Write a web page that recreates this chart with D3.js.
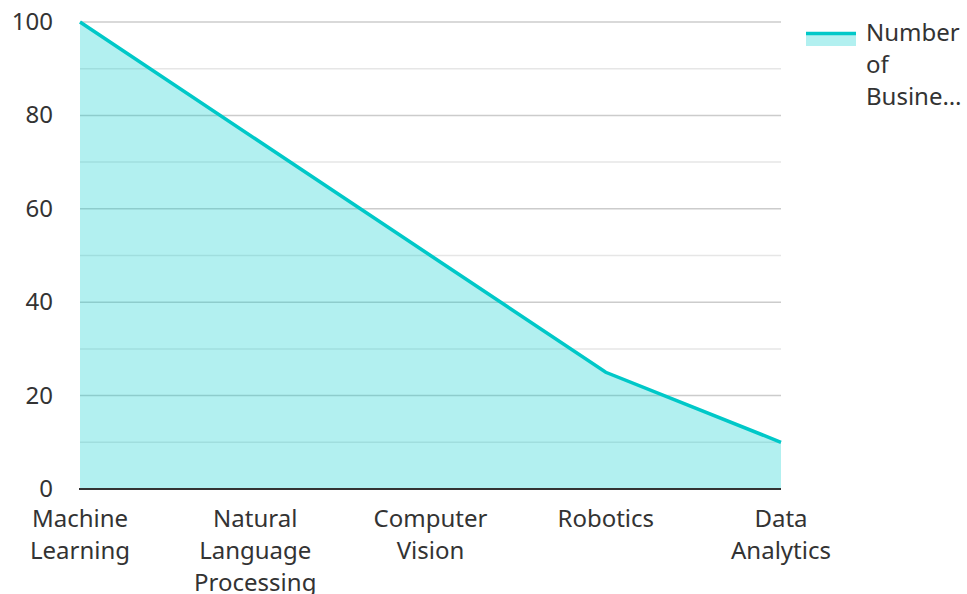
<!DOCTYPE html>
<html><head><meta charset="utf-8">
<script src="https://cdn.jsdelivr.net/npm/d3@7"></script>
<style>body{margin:0;background:#fff}svg{display:block}text{font-family:"Noto Sans","Open Sans",sans-serif;fill:#333}</style>
</head><body><svg id="c" width="967" height="594"></svg>
<script>
const categories=[["Machine","Learning"],["Natural","Language","Processing"],["Computer","Vision"],["Robotics"],["Data","Analytics"]];
const values=[100,75,50,25,10];
const yTicks=[0,20,40,60,80,100];
const minorTicks=[10,30,50,70,90];
const seriesName=["Number","of","Busine…"];

const svg=d3.select("#c");
const x=d3.scalePoint().domain(d3.range(categories.length)).range([80,781]);
const y=d3.scaleLinear().domain([0,100]).range([489,22]);

svg.append("g").selectAll("line").data(minorTicks).join("line")
 .attr("x1",80).attr("x2",781).attr("y1",d=>y(d)).attr("y2",d=>y(d)).attr("stroke","#e6e6e6").attr("stroke-width",1.5);
svg.append("g").selectAll("line").data(yTicks.filter(d=>d>0)).join("line")
 .attr("x1",80).attr("x2",781).attr("y1",d=>y(d)).attr("y2",d=>y(d)).attr("stroke","#cccccc").attr("stroke-width",1.5);

const pts=values.map((v,i)=>[i,v]);
svg.append("path").datum(pts).attr("d",d3.area().x(d=>x(d[0])).y0(y(0)).y1(d=>y(d[1])))
 .attr("fill","#00cccc").attr("fill-opacity",0.3);
svg.append("path").datum(pts).attr("d",d3.line().x(d=>x(d[0])).y(d=>y(d[1])))
 .attr("fill","none").attr("stroke","#00c8c8").attr("stroke-width",3.5);

svg.append("line").attr("x1",79).attr("x2",781).attr("y1",y(0)).attr("y2",y(0)).attr("stroke","#333").attr("stroke-width",2);

svg.append("g").selectAll("text").data(yTicks).join("text")
 .attr("x",53).attr("y",d=>y(d)+8).attr("text-anchor","end").attr("font-size",24).text(d=>d);

const xl=svg.append("g").selectAll("text").data(categories).join("text")
 .attr("text-anchor","middle").attr("font-size",24)
 .attr("transform",(d,i)=>`translate(${x(i)},527)`);
xl.selectAll("tspan").data(d=>d).join("tspan").attr("x",0).attr("dy",(d,j)=>j?32:0).text(d=>d);

const lg=svg.append("g");
lg.append("rect").attr("x",806).attr("y",33).attr("width",50).attr("height",13).attr("fill","#00cccc").attr("fill-opacity",0.3);
lg.append("line").attr("x1",806).attr("x2",856).attr("y1",33.5).attr("y2",33.5).attr("stroke","#00c8c8").attr("stroke-width",3.5);
lg.append("text").attr("x",866).attr("y",41).attr("font-size",24)
 .selectAll("tspan").data(seriesName).join("tspan").attr("x",866).attr("dy",(d,j)=>j?32:0).text(d=>d);
</script></body></html>
